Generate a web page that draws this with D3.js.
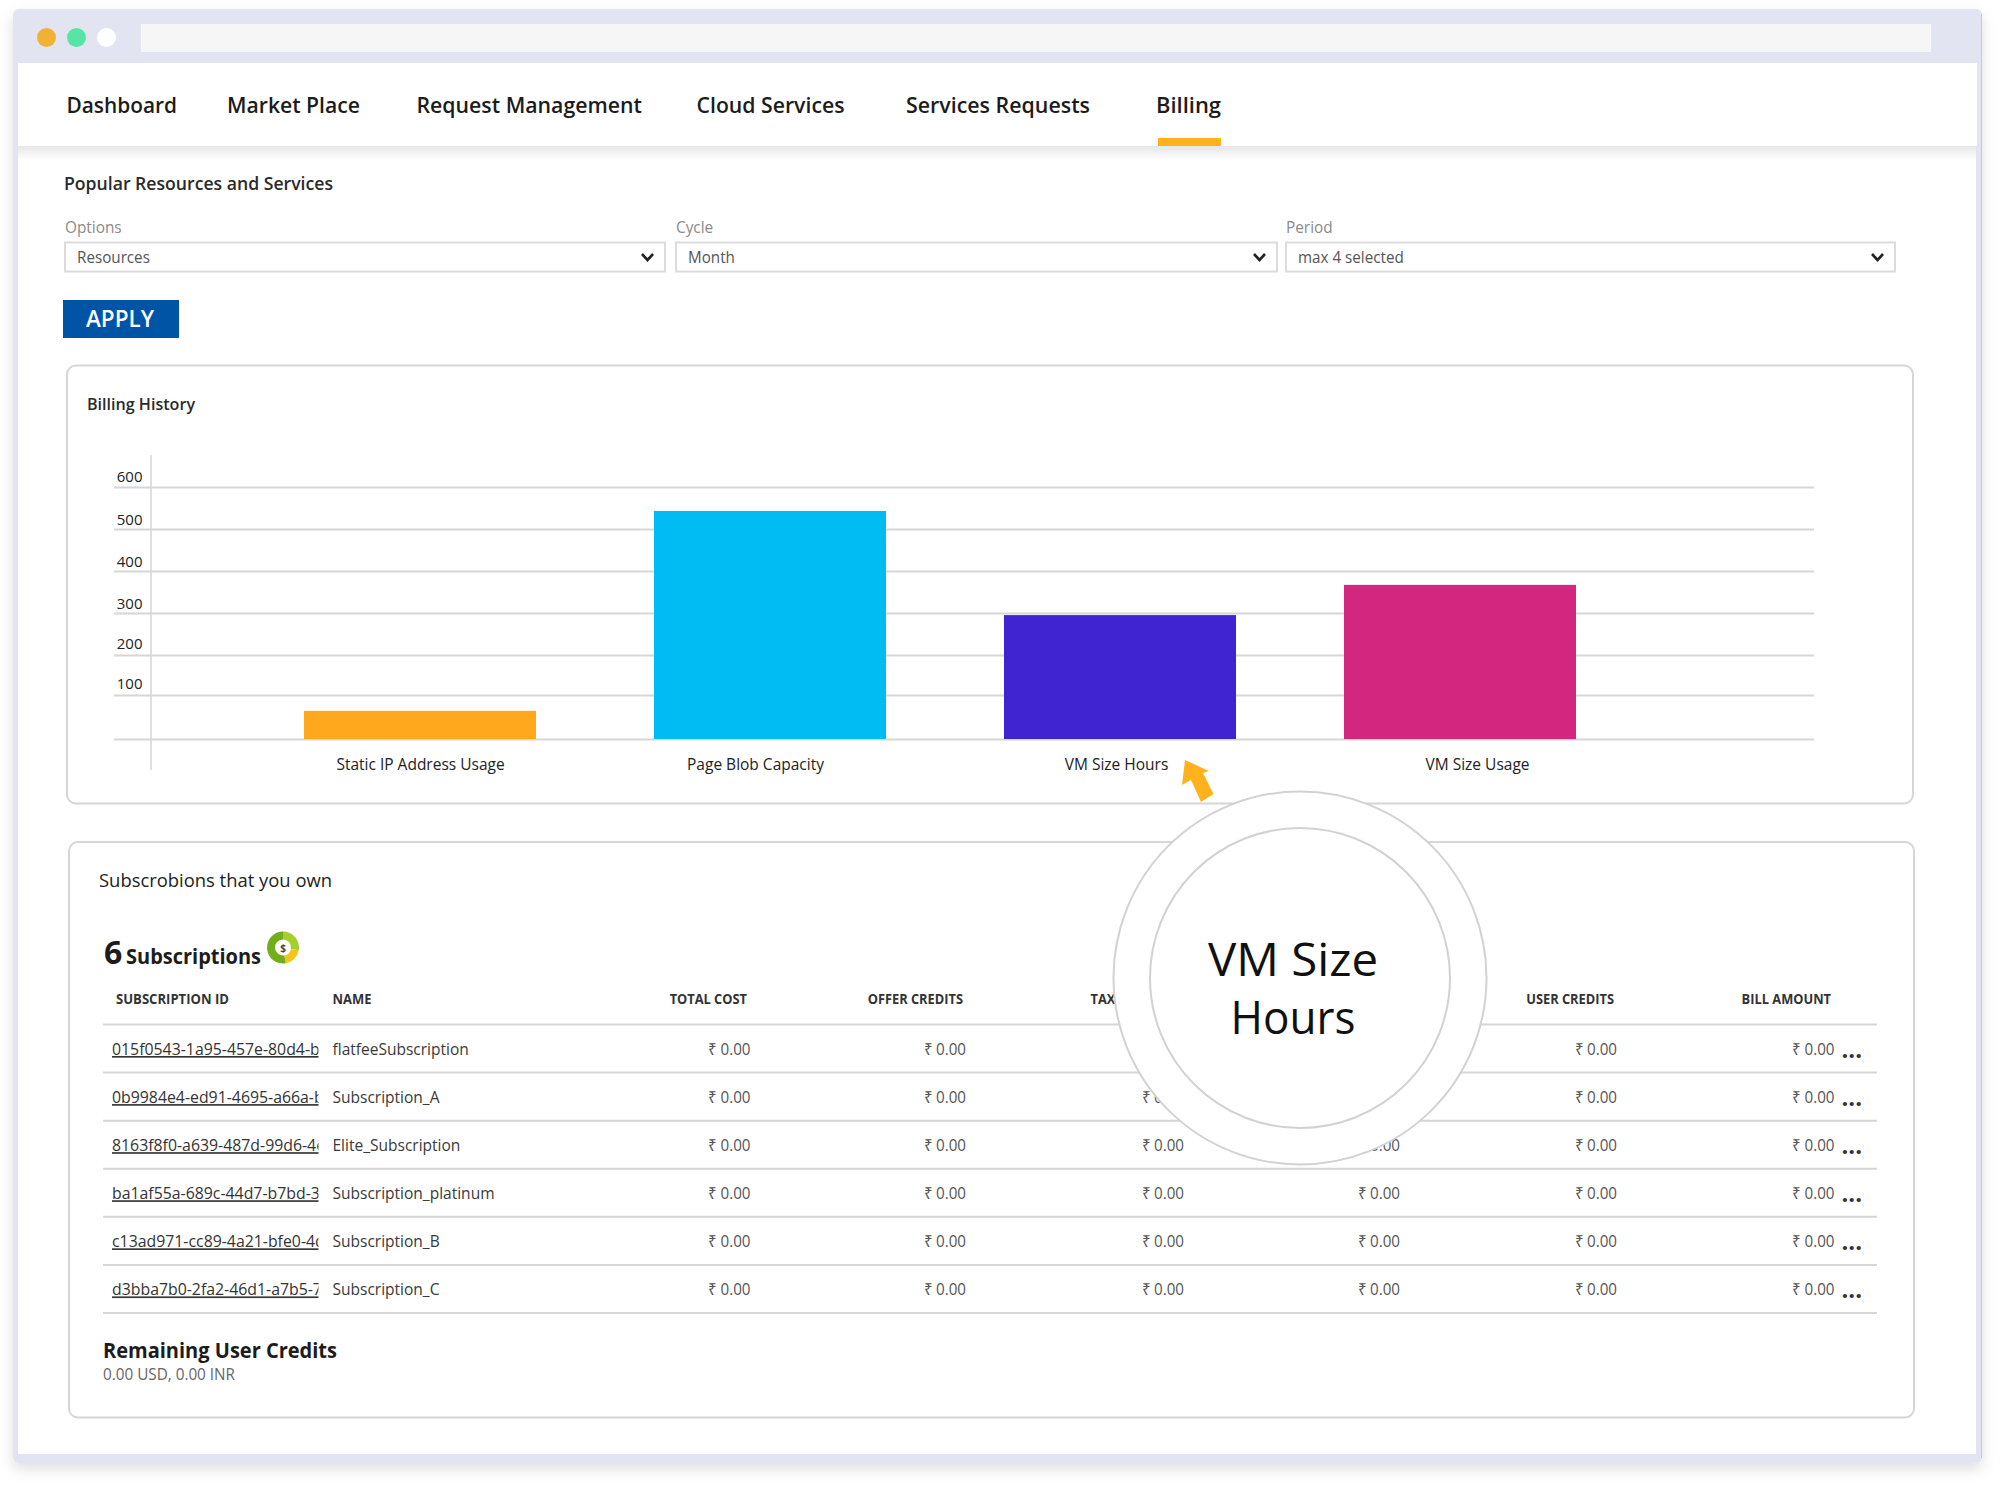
<!DOCTYPE html>
<html><head><meta charset="utf-8">
<script src="https://cdn.jsdelivr.net/npm/d3@7"></script>
<style>html,body{margin:0;padding:0;background:#fff}svg{display:block}text{font-family:"Open Sans",sans-serif;white-space:pre}</style>
</head><body><div id="chart"></div>
<script>
const navItems = ["Dashboard","Market Place","Request Management","Cloud Services","Services Requests","Billing"];
const categories = ["Static IP Address Usage","Page Blob Capacity","VM Size Hours","VM Size Usage"];
const values = [64,543,295,367];
const barColors = ["#ffa81e","#00bcf2","#4024d2","#d2267f"];
const yTicks = [0,100,200,300,400,500,600];
const subscriptionIds = ["015f0543-1a95-457e-80d4-b7","0b9984e4-ed91-4695-a66a-b","8163f8f0-a639-487d-99d6-4e","ba1af55a-689c-44d7-b7bd-3","c13ad971-cc89-4a21-bfe0-4d","d3bba7b0-2fa2-46d1-a7b5-7"];
const subscriptionNames = ["flatfeeSubscription","Subscription_A","Elite_Subscription","Subscription_platinum","Subscription_B","Subscription_C"];
const amounts = [0,0,0,0,0,0];
const rightHeaders = ["TOTAL COST","OFFER CREDITS","","","USER CREDITS","BILL AMOUNT"];
const iconShares = [100,70,190];
const iconColors = ["#a6cf2b","#f5c518","#74ad1c"];

const svg = d3.select("#chart").append("svg").attr("width",2000).attr("height",1485);
const defs = svg.append("defs");
const sh = defs.append("linearGradient").attr("id","navShadow").attr("x1",0).attr("x2",0).attr("y1",0).attr("y2",1);
sh.append("stop").attr("offset",0).attr("stop-color","#e6e6e6");
sh.append("stop").attr("offset",1).attr("stop-color","#ffffff");
const fs = defs.append("filter").attr("id","frameShadow").attr("x","-3%").attr("y","-3%").attr("width","106%").attr("height","106%");
fs.append("feDropShadow").attr("dx",0).attr("dy",6).attr("stdDeviation",7).attr("flood-color","#000").attr("flood-opacity",.13);
defs.append("clipPath").attr("id","idClip").append("rect").attr("x",105).attr("y",1000).attr("width",213.5).attr("height",330);

function rect(x,y,w,h,fill,extra={}){
  const r=svg.append("rect").attr("x",x).attr("y",y).attr("width",w).attr("height",h).attr("fill",fill);
  Object.entries(extra).forEach(([k,v])=>r.attr(k,v));return r;
}
function txt(parent,x,y,s,o={}){
  const t=parent.append("text").attr("x",x).attr("y",y).text(s)
    .attr("font-size",o.size||16).attr("font-weight",o.weight||400).attr("fill",o.color||"#222")
    .attr("text-anchor",o.anchor||"start");
  if(o.w){t.attr("textLength",o.w).attr("lengthAdjust","spacingAndGlyphs");}
  else if(o.k){const n=t.node().getComputedTextLength();t.attr("textLength",n*o.k).attr("lengthAdjust","spacingAndGlyphs");}
  if(o.deco)t.attr("text-decoration",o.deco);
  return t;
}

// browser frame
rect(13,9,1969,1454,"#e2e5f1",{rx:6,filter:"url(#frameShadow)"});
svg.append("line").attr("x1",1981.5).attr("x2",1981.5).attr("y1",14).attr("y2",1458).attr("stroke","#c4c8dc").attr("stroke-width",1);
rect(18,146,1958,1308,"#fff");
rect(18,63,1959,83,"#fff");
rect(141,24,1790,28,"#f6f6f6");
[["#f0b233",46.5],["#57e5a5",76.5],["#ffffff",106.5]].forEach(([c,x])=>svg.append("circle").attr("cx",x).attr("cy",37.5).attr("r",9.5).attr("fill",c));

// nav
rect(18,146,1958,14,"url(#navShadow)");
const navX=[66.5,227,416.5,696.5,906,1156], navW=[110.5,133,225.5,148,184,65];
navItems.forEach((s,i)=>txt(svg,navX[i],113,s,{size:21,weight:600,color:"#1c1c1c",w:navW[i]}));
rect(1158,138,63,8,"#ffb21e");

// filters
txt(svg,64,190,"Popular Resources and Services",{size:18,weight:600,color:"#2a2a2a",w:269});
[["Options",65,600,"Resources"],["Cycle",676,601,"Month"],["Period",1286,609,"max 4 selected"]].forEach(([l,x,w,v])=>{
  txt(svg,x,233,l,{size:16,color:"#8a8a8a",k:.96});
  rect(x,242.5,w,29,"#fff",{stroke:"#dcdcdc","stroke-width":2});
  txt(svg,x+12,262.5,v,{size:16,color:"#555",k:.95});
  svg.append("path").attr("d",`M${x+w-23} 254 l5.5 6 l5.5 -6`).attr("fill","none").attr("stroke","#222").attr("stroke-width",2.6);
});
rect(63,300,116,38,"#0054a6");
txt(svg,86,327,"APPLY",{size:23,weight:600,color:"#fff",w:68});

// card 1
rect(67,365.5,1846,438,"#fff",{stroke:"#d6d6d6","stroke-width":2,rx:9});
txt(svg,87,410,"Billing History",{size:16,weight:600,color:"#2a2a2a",w:108});

const y=d3.scaleLinear().domain(yTicks).range([739,695,655,613,571,529,487]);
const xBar=d3.scaleOrdinal(categories,[304,654,1004,1344]);
const xLabel=d3.scaleOrdinal(categories,[420,755,1116,1477]);
const barWidth=232;

svg.append("line").attr("x1",151).attr("x2",151).attr("y1",455).attr("y2",770).attr("stroke","#d6d6d6").attr("stroke-width",1.5);
const yAxis=svg.append("g").attr("transform","translate(114,0)")
  .call(d3.axisLeft(y).tickValues(yTicks.slice(1).concat([0])).tickSizeInner(-1700).tickSizeOuter(0).tickFormat(d=>d===0?"":d));
yAxis.select(".domain").remove();
yAxis.selectAll(".tick line").attr("stroke","#d6d6d6").attr("stroke-width",2);
yAxis.selectAll(".tick text").attr("x",28.5).attr("dy",d=>d===600?-6:d>=300?-5:-7).attr("text-anchor","end")
  .attr("font-family",'"Open Sans",sans-serif').attr("font-size",15).attr("fill","#222");

svg.append("g").selectAll("rect").data(categories).join("rect")
  .attr("x",d=>xBar(d)).attr("width",barWidth)
  .attr("y",(d,i)=>y(values[i])).attr("height",(d,i)=>y(0)-y(values[i]))
  .attr("fill",(d,i)=>barColors[i]);

const xAxis=svg.append("g").attr("transform","translate(0,739)").call(d3.axisBottom(xLabel).tickSize(0));
xAxis.select(".domain").remove();
xAxis.selectAll(".tick text").attr("y",31).attr("dy",0)
  .attr("font-family",'"Open Sans",sans-serif').attr("font-size",15.5).attr("fill","#222");

// arrow
svg.append("path").attr("d","M1185 760 L1209 771 L1203 773 L1213.5 794 L1201 802 L1191 780 L1182 785 Z").attr("fill","#ffb21e");

// card 2
rect(69,842,1845,575.5,"#fff",{stroke:"#d6d6d6","stroke-width":2,rx:9});
txt(svg,99,887,"Subscrobions that you own",{size:19,color:"#222",w:233});
txt(svg,104,964,"6",{size:32,weight:700,color:"#1c1c1c"});
txt(svg,126,964,"Subscriptions",{size:21,weight:700,color:"#1c1c1c",w:135});

const arc=d3.arc().innerRadius(8).outerRadius(16);
const iconG=svg.append("g").attr("transform","translate(283,947.5)");
iconG.selectAll("path").data(d3.pie().sort(null)(iconShares)).join("path").attr("d",arc).attr("fill",(d,i)=>iconColors[i]);
txt(iconG,0,4,"$",{size:10,weight:700,color:"#444",anchor:"middle"});

// table
const headStyle={size:13.5,weight:700,color:"#333",k:.95};
txt(svg,116,1004,"SUBSCRIPTION ID",{...headStyle,k:undefined,w:113});
txt(svg,332.5,1004,"NAME",{...headStyle,k:undefined,w:39});
txt(svg,1090.5,1004,"TAX",headStyle);
const colRight=[750.5,966,1184,1400,1617,1834.5];
const headRight=[747,963,null,null,1614,1831];
rightHeaders.forEach((h,i)=>{ if(h){ txt(svg,headRight[i],1004,h,{...headStyle,anchor:"end"}); }});
const rowH=d3.scalePoint().domain(d3.range(subscriptionIds.length+1)).range([1024.5,1313]);
d3.range(subscriptionIds.length+1).forEach(i=>svg.append("line").attr("x1",103).attr("x2",1877).attr("y1",rowH(i)).attr("y2",rowH(i)).attr("stroke","#d6d6d6").attr("stroke-width",2));
const idG=svg.append("g").attr("clip-path","url(#idClip)");
subscriptionIds.forEach((s,i)=>{
  const cy=rowH(i)+30.5;
  txt(idG,112,cy,s,{size:16.5,color:"#333",deco:"underline",k:.96});
  txt(svg,332.5,cy,subscriptionNames[i],{size:16.5,color:"#3a3a3a",k:.94});
  colRight.forEach(r=>{
    txt(svg,r,cy,"₹ "+d3.format(".2f")(amounts[i]),{size:16.5,color:"#555",anchor:"end",k:.92});
  });
  txt(svg,1841.5,cy+3,"...",{size:24,weight:700,color:"#333"});
});
txt(svg,103,1358,"Remaining User Credits",{size:21,weight:700,color:"#1c1c1c",w:234});
txt(svg,103,1380,"0.00 USD, 0.00 INR",{size:16,color:"#666",w:132});

// magnifier
svg.append("circle").attr("cx",1300).attr("cy",978).attr("r",186.5).attr("fill","#fff").attr("stroke","#d2d2d2").attr("stroke-width",2);
svg.append("circle").attr("cx",1300).attr("cy",978).attr("r",150).attr("fill","#fff").attr("stroke","#d2d2d2").attr("stroke-width",2);
txt(svg,1293,976,"VM Size",{size:45,color:"#111",anchor:"middle",w:170});
txt(svg,1293,1034,"Hours",{size:45,color:"#111",anchor:"middle",w:125});
</script></body></html>
